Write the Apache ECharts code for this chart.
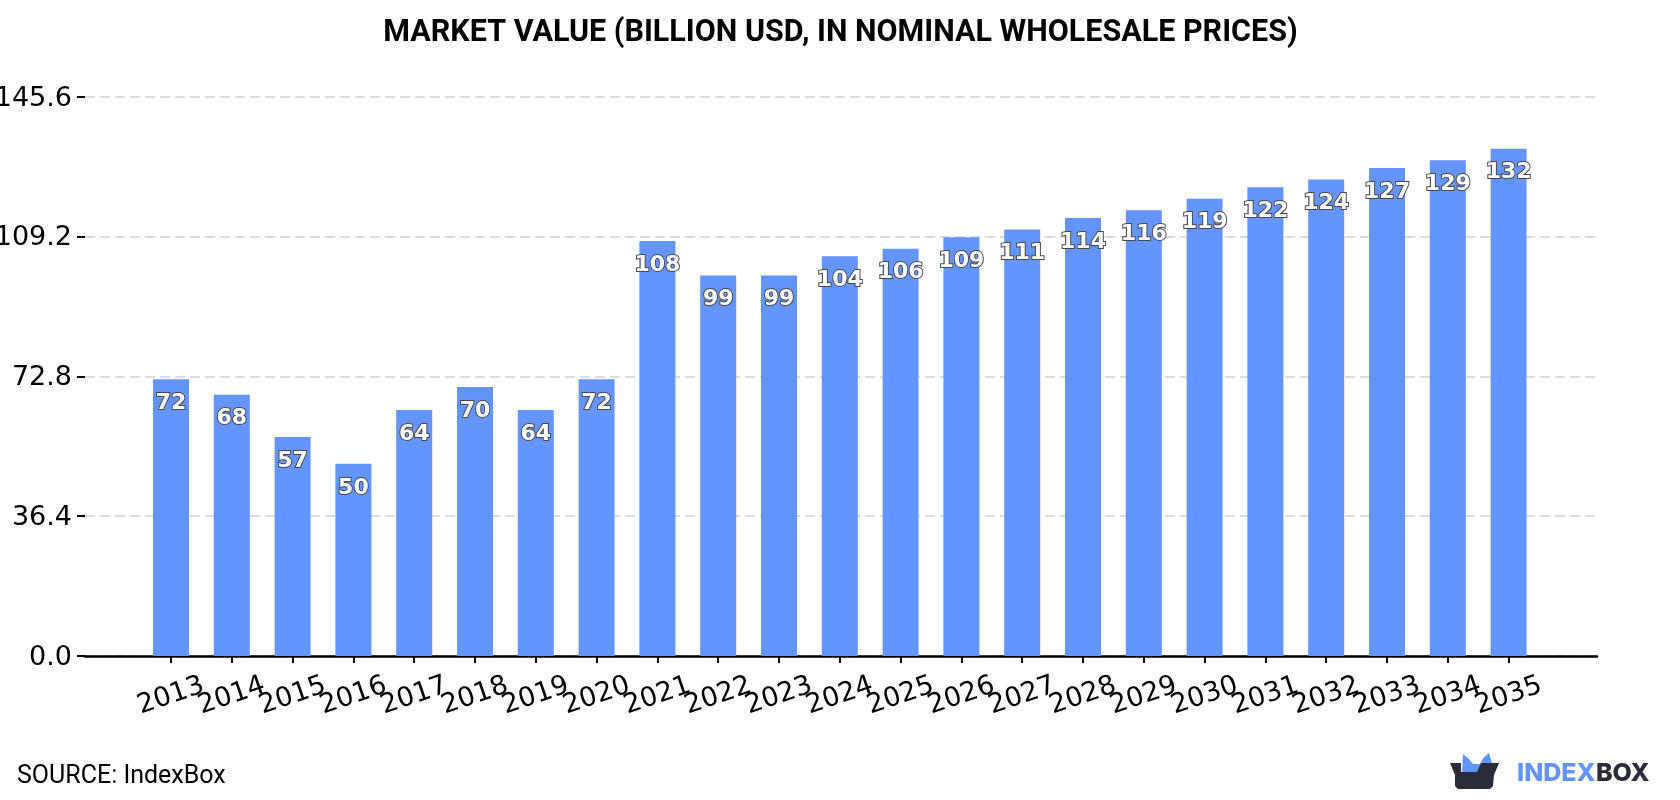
<!DOCTYPE html>
<html>
<head>
<meta charset="utf-8">
<style>html,body{margin:0;padding:0;background:#fff}#chart{width:1680px;height:800px}</style>
<script src="https://cdn.jsdelivr.net/npm/echarts@6/dist/echarts.min.js"></script>
</head>
<body>
<div id="chart"></div>
<script>
// Market value by year, billion USD
const years = ['2013','2014','2015','2016','2017','2018','2019','2020','2021','2022','2023','2024','2025','2026','2027','2028','2029','2030','2031','2032','2033','2034','2035'];
const marketValue = [72,68,57,50,64,70,64,72,108,99,99,104,106,109,111,114,116,119,122,124,127,129,132];
const yTicks = [0,36.4,72.8,109.2,145.6];
const titleText = 'MARKET VALUE (BILLION USD, IN NOMINAL WHOLESALE PRICES)';
const sourceText = 'SOURCE: IndexBox';

const BLUE = '#6495ff';
const DARK = '#2a2c38';
const yMin = yTicks[0], yMax = yTicks[yTicks.length - 1];
const chart = echarts.init(document.getElementById('chart'), null, {renderer: 'canvas'});

chart.setOption({
  animation: false,
  backgroundColor: '#fff',
  title: {
    text: titleText,
    left: 835.5, top: 13, textAlign: 'center',
    textStyle: {fontFamily: 'Roboto', fontWeight: 700, fontSize: 30.5, color: '#000'}
  },
  // Outer grid carries the gridlines and baseline; the inner one is inset so the bars sit clear of the ends
  grid: [
    {left: 85, width: 1512, top: 96.5, height: 559.5, outerBoundsMode: 'none'},
    {left: 140.6, width: 1398.4, top: 96.5, height: 559.5, outerBoundsMode: 'none'}
  ],
  xAxis: [
    {
      gridIndex: 0, type: 'value', min: 0, max: 1,
      splitLine: {show: false},
      axisLine: {show: true, lineStyle: {color: '#000', width: 2.5}},
      axisTick: {show: false},
      axisLabel: {show: false}
    },
    {
      gridIndex: 1, type: 'category', data: years,
      axisLine: {show: false},
      axisTick: {show: true, alignWithLabel: true, length: 7, lineStyle: {color: '#000', width: 2}},
      axisLabel: {
        interval: 0, hideOverlap: false,
        rotate: 19, align: 'center', verticalAlign: 'middle', margin: 40,
        fontFamily: 'DejaVu Sans', fontSize: 27, color: '#000'
      }
    }
  ],
  yAxis: [
    {
      gridIndex: 0, type: 'value', min: yMin, max: yMax, interval: yTicks[1],
      axisLine: {show: false},
      axisTick: {show: true, length: 8, lineStyle: {color: '#000', width: 2}},
      splitLine: {show: true, lineStyle: {color: '#dddddd', width: 2, type: [10, 5]}},
      axisLabel: {
        formatter: v => '{v|' + v.toFixed(1) + '}',
        margin: 13,
        rich: {v: {padding: [4, 0, 0, 0], fontFamily: 'DejaVu Sans', fontSize: 27, color: '#000'}}
      }
    },
    {gridIndex: 1, type: 'value', min: yMin, max: yMax, show: false}
  ],
  series: [{
    type: 'bar',
    xAxisIndex: 1, yAxisIndex: 1,
    barWidth: 36,
    itemStyle: {color: BLUE},
    data: marketValue,
    z: 3,
    label: {
      show: true,
      position: 'insideTop',
      distance: 13,
      fontFamily: 'DejaVu Sans', fontWeight: 700, fontSize: 22,
      color: '#fff', textBorderColor: '#4a4a4a', textBorderWidth: 2
    }
  }],
  graphic: [
    {type: 'text', left: 17, top: 764, style: {text: sourceText, fontFamily: 'Roboto', fontSize: 25, fill: '#000'}},
    // logo: open box with a crown rising out of it
    {type: 'polygon', shape: {points: [[1462,773],[1463,754],[1469,759],[1473,764],[1480,764],[1484,757],[1489,753],[1492,763],[1492,773]]}, style: {fill: BLUE}},
    {type: 'polygon', shape: {points: [[1450,763],[1461,763],[1461,772],[1477,772],[1481,763],[1499,763],[1494,775],[1493,786],[1490,789],[1458,789],[1455,786],[1455,775]]}, style: {fill: DARK}},
    {type: 'text', left: 1517, top: 761, style: {text: 'INDEX', fontFamily: 'Inter', fontWeight: 800, fontSize: 25, fill: BLUE}},
    {type: 'text', left: 1596, top: 761, style: {text: 'BOX', fontFamily: 'Inter', fontWeight: 800, fontSize: 25, fill: DARK}}
  ]
});
</script>
</body>
</html>
